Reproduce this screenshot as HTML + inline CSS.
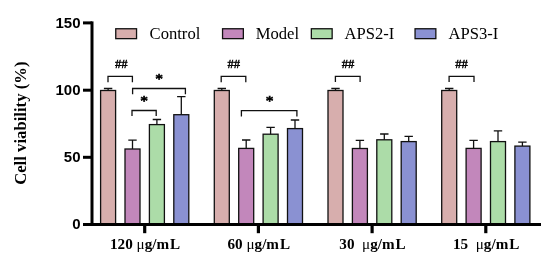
<!DOCTYPE html>
<html><head><meta charset="utf-8"><style>
html,body{margin:0;padding:0;background:#fff;}
body{width:550px;height:262px;overflow:hidden;}
svg{display:block;}
.yt{font-family:"Liberation Sans",Arial,sans-serif;font-weight:bold;font-size:15px;fill:#000;}
.xl{font-family:"Liberation Serif","Times New Roman",serif;font-weight:bold;font-size:15.15px;fill:#000;}
.yl{font-family:"Liberation Serif","Times New Roman",serif;font-weight:bold;font-size:16.7px;fill:#000;}
.lg{font-family:"Liberation Serif","Times New Roman",serif;font-size:16.6px;fill:#000;}
.hh{font-family:"Liberation Serif","Times New Roman",serif;font-size:12.6px;fill:#000;stroke:#000;stroke-width:0.45px;}
.mu{font-weight:normal;}
.st{font-family:"Liberation Serif","Times New Roman",serif;font-size:15.5px;fill:#000;stroke:#000;stroke-width:0.7px;}
</style></head><body>
<svg width="550" height="262" viewBox="0 0 550 262">
<rect x="100.60" y="90.50" width="15.00" height="133.90" fill="#D7AEAD" stroke="#111" stroke-width="1.3"/>
<path d="M108.10 90.50V88.50M103.90 88.50H112.30" stroke="#111" stroke-width="1.3" fill="none"/>
<rect x="125.00" y="149.00" width="15.00" height="75.40" fill="#C287BB" stroke="#111" stroke-width="1.3"/>
<path d="M132.50 149.00V140.20M128.30 140.20H136.70" stroke="#111" stroke-width="1.3" fill="none"/>
<rect x="149.40" y="124.60" width="15.00" height="99.80" fill="#ACDCA8" stroke="#111" stroke-width="1.3"/>
<path d="M156.90 124.60V119.50M152.70 119.50H161.10" stroke="#111" stroke-width="1.3" fill="none"/>
<rect x="173.80" y="114.70" width="15.00" height="109.70" fill="#8A91D2" stroke="#111" stroke-width="1.3"/>
<path d="M181.30 114.70V96.60M177.10 96.60H185.50" stroke="#111" stroke-width="1.3" fill="none"/>
<rect x="214.30" y="90.50" width="15.00" height="133.90" fill="#D7AEAD" stroke="#111" stroke-width="1.3"/>
<path d="M221.80 90.50V88.50M217.60 88.50H226.00" stroke="#111" stroke-width="1.3" fill="none"/>
<rect x="238.70" y="148.40" width="15.00" height="76.00" fill="#C287BB" stroke="#111" stroke-width="1.3"/>
<path d="M246.20 148.40V140.00M242.00 140.00H250.40" stroke="#111" stroke-width="1.3" fill="none"/>
<rect x="263.10" y="134.20" width="15.00" height="90.20" fill="#ACDCA8" stroke="#111" stroke-width="1.3"/>
<path d="M270.60 134.20V127.40M266.40 127.40H274.80" stroke="#111" stroke-width="1.3" fill="none"/>
<rect x="287.50" y="128.60" width="15.00" height="95.80" fill="#8A91D2" stroke="#111" stroke-width="1.3"/>
<path d="M295.00 128.60V120.00M290.80 120.00H299.20" stroke="#111" stroke-width="1.3" fill="none"/>
<rect x="328.00" y="90.50" width="15.00" height="133.90" fill="#D7AEAD" stroke="#111" stroke-width="1.3"/>
<path d="M335.50 90.50V88.50M331.30 88.50H339.70" stroke="#111" stroke-width="1.3" fill="none"/>
<rect x="352.40" y="148.50" width="15.00" height="75.90" fill="#C287BB" stroke="#111" stroke-width="1.3"/>
<path d="M359.90 148.50V140.30M355.70 140.30H364.10" stroke="#111" stroke-width="1.3" fill="none"/>
<rect x="376.80" y="139.80" width="15.00" height="84.60" fill="#ACDCA8" stroke="#111" stroke-width="1.3"/>
<path d="M384.30 139.80V134.00M380.10 134.00H388.50" stroke="#111" stroke-width="1.3" fill="none"/>
<rect x="401.20" y="141.60" width="15.00" height="82.80" fill="#8A91D2" stroke="#111" stroke-width="1.3"/>
<path d="M408.70 141.60V136.30M404.50 136.30H412.90" stroke="#111" stroke-width="1.3" fill="none"/>
<rect x="441.70" y="90.50" width="15.00" height="133.90" fill="#D7AEAD" stroke="#111" stroke-width="1.3"/>
<path d="M449.20 90.50V88.50M445.00 88.50H453.40" stroke="#111" stroke-width="1.3" fill="none"/>
<rect x="466.10" y="148.40" width="15.00" height="76.00" fill="#C287BB" stroke="#111" stroke-width="1.3"/>
<path d="M473.60 148.40V140.30M469.40 140.30H477.80" stroke="#111" stroke-width="1.3" fill="none"/>
<rect x="490.50" y="141.60" width="15.00" height="82.80" fill="#ACDCA8" stroke="#111" stroke-width="1.3"/>
<path d="M498.00 141.60V130.90M493.80 130.90H502.20" stroke="#111" stroke-width="1.3" fill="none"/>
<rect x="514.90" y="146.10" width="15.00" height="78.30" fill="#8A91D2" stroke="#111" stroke-width="1.3"/>
<path d="M522.40 146.10V142.20M518.20 142.20H526.60" stroke="#111" stroke-width="1.3" fill="none"/>
<path d="M92 21.4V225.90" stroke="#000" stroke-width="3.0" fill="none"/>
<path d="M83 224.40H541" stroke="#000" stroke-width="3.0" fill="none"/>
<path d="M83 22.9H92" stroke="#000" stroke-width="3.0" fill="none"/>
<path d="M83 90.2H92" stroke="#000" stroke-width="3.0" fill="none"/>
<path d="M83 157.3H92" stroke="#000" stroke-width="3.0" fill="none"/>
<path d="M144.70 224.40V233.2" stroke="#000" stroke-width="3.2" fill="none"/>
<path d="M258.40 224.40V233.2" stroke="#000" stroke-width="3.2" fill="none"/>
<path d="M372.10 224.40V233.2" stroke="#000" stroke-width="3.2" fill="none"/>
<path d="M485.80 224.40V233.2" stroke="#000" stroke-width="3.2" fill="none"/>
<path d="M108.0 82.2V76.3H132.4V82.2" stroke="#111" stroke-width="1.3" fill="none"/>
<path d="M132.6 94.3V88.5H185.4V94.3" stroke="#111" stroke-width="1.3" fill="none"/>
<path d="M132.0 115.9V110.5H156.2V115.9" stroke="#111" stroke-width="1.3" fill="none"/>
<path d="M221.2 82.2V76.3H245.8V82.2" stroke="#111" stroke-width="1.3" fill="none"/>
<path d="M241.4 116.6V110.6H296.9V116.6" stroke="#111" stroke-width="1.3" fill="none"/>
<path d="M335.4 82.0V76.3H360.1V82.0" stroke="#111" stroke-width="1.3" fill="none"/>
<path d="M449.1 82.0V76.3H474.0V82.0" stroke="#111" stroke-width="1.3" fill="none"/>
<text x="80.5" y="27.7" text-anchor="end" class="yt">150</text>
<text x="80.5" y="95.0" text-anchor="end" class="yt">100</text>
<text x="80.5" y="162.1" text-anchor="end" class="yt">50</text>
<text x="80.5" y="229.2" text-anchor="end" class="yt">0</text>
<text x="145.1" y="249.3" text-anchor="middle" class="xl">120 <tspan class="mu">μ</tspan>g/m<tspan dx="1">L</tspan></text>
<text x="258.8" y="249.3" text-anchor="middle" class="xl">60 <tspan class="mu">μ</tspan>g/m<tspan dx="1">L</tspan></text>
<text x="372.5" y="249.3" text-anchor="middle" class="xl">30  <tspan class="mu">μ</tspan>g/m<tspan dx="1">L</tspan></text>
<text x="486.2" y="249.3" text-anchor="middle" class="xl">15  <tspan class="mu">μ</tspan>g/m<tspan dx="1">L</tspan></text>
<text transform="translate(25.6 123.2) rotate(-90)" text-anchor="middle" class="yl">Cell viability (%)</text>
<text x="121.3" y="67.7" text-anchor="middle" class="hh">##</text>
<text x="233.7" y="67.7" text-anchor="middle" class="hh">##</text>
<text x="348.0" y="67.7" text-anchor="middle" class="hh">##</text>
<text x="461.6" y="67.7" text-anchor="middle" class="hh">##</text>
<text x="159.0" y="84.2" text-anchor="middle" class="st">*</text>
<text x="144.0" y="106.2" text-anchor="middle" class="st">*</text>
<text x="269.6" y="106.0" text-anchor="middle" class="st">*</text>
<rect x="115.75" y="28.75" width="20.8" height="9.9" fill="#D7AEAD" stroke="#111" stroke-width="1.3"/>
<text x="149.6" y="38.8" class="lg">Control</text>
<rect x="222.55" y="28.75" width="20.8" height="9.9" fill="#C287BB" stroke="#111" stroke-width="1.3"/>
<text x="255.7" y="38.8" class="lg">Model</text>
<rect x="311.35" y="28.75" width="20.8" height="9.9" fill="#ACDCA8" stroke="#111" stroke-width="1.3"/>
<text x="344.6" y="38.8" class="lg">APS2-I</text>
<rect x="415.05" y="28.75" width="20.8" height="9.9" fill="#8A91D2" stroke="#111" stroke-width="1.3"/>
<text x="448.5" y="38.8" class="lg">APS3-I</text>
</svg>
</body></html>
